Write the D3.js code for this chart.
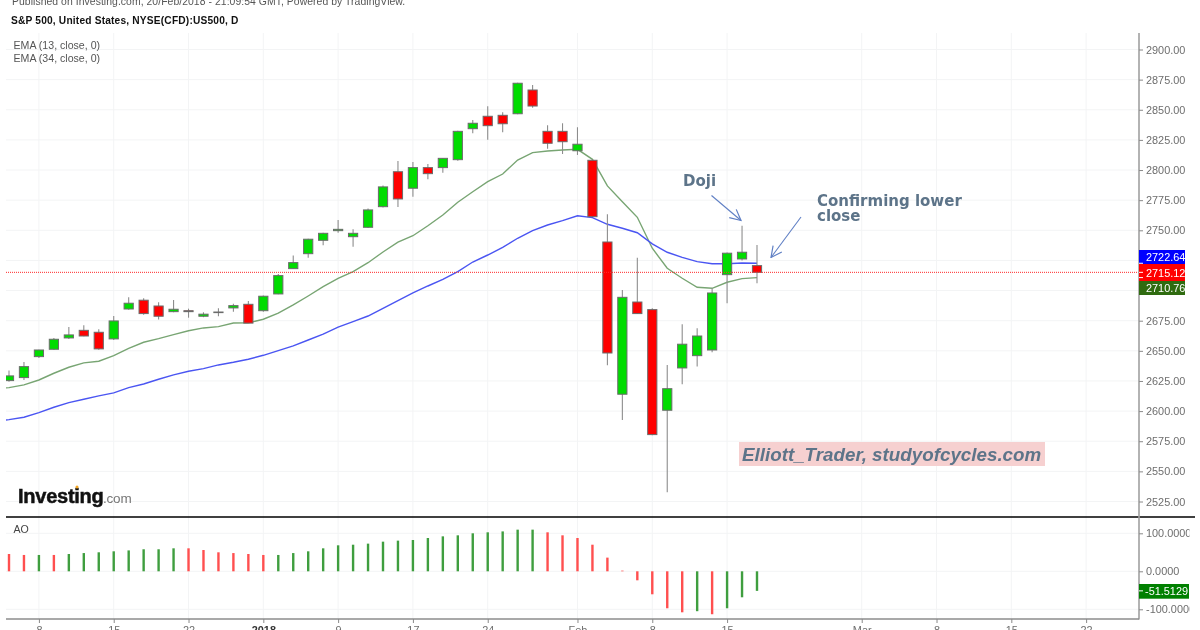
<!DOCTYPE html>
<html><head><meta charset="utf-8">
<script src="https://cdn.jsdelivr.net/npm/d3@7/dist/d3.min.js"></script>
<style>
html,body{margin:0;padding:0;background:#fff;overflow:hidden}
svg{display:block;filter:blur(0.35px)}
text{font-family:"Liberation Sans",Arial,sans-serif}
</style></head><body>
<svg id="c" width="1200" height="630"></svg>
<script>
// open, high, low, close per session
const opens=[2625.3,2627.8,2645.2,2651.3,2660.7,2667,2665.4,2659.9,2684.7,2692,2687.2,2682.5,2683.3,2678.7,2681.7,2685.6,2688.6,2683.3,2697.2,2718.2,2730.6,2741.7,2749.7,2744.7,2752.5,2769.6,2798.6,2784.9,2802,2802,2808.6,2834.3,2844.6,2845.4,2846.7,2866.4,2832.1,2832.1,2816,2808.1,2740.3,2614,2690.5,2684.2,2600.7,2635.8,2646,2650.7,2713.2,2726.2,2720.7];
const closes=[2629.2,2636.9,2650.7,2659.6,2663.2,2662.3,2651.6,2674.8,2689.5,2680.9,2678.7,2684.5,2682.5,2680.4,2682.2,2687.5,2673,2695.3,2712.4,2723.2,2742.6,2747.5,2750.8,2747.5,2766.9,2786,2776,2802,2797,2809.7,2832.1,2838.8,2836.8,2838.4,2872,2853.1,2822.2,2823.5,2821.4,2761.3,2648.2,2694.4,2680.9,2580.5,2618.6,2655.5,2662.3,2698,2731,2731.8,2715.12];
const highs=[2633.6,2640.8,2651,2660.7,2669.8,2671.2,2668,2679,2694.4,2693.6,2690.3,2692.2,2685,2682,2685.3,2689,2691.4,2696,2713.8,2729,2743,2748,2758.6,2750.8,2768,2787.2,2807.5,2806.7,2805,2810,2832.5,2841.5,2852.9,2847.9,2872.5,2870.6,2837.1,2838.8,2835.5,2808.5,2763.3,2700.5,2727.3,2685.3,2638.3,2672,2668.7,2701.9,2731.5,2753.8,2737.8];
const lows=[2624.4,2625.9,2644,2651,2659.9,2662,2651,2659,2684,2680,2675.9,2682,2677.5,2677.9,2678.7,2682.5,2673,2682.5,2697,2718,2727.3,2737.6,2748,2736.4,2752,2769,2769.4,2777.9,2792.3,2797.8,2807.8,2830.5,2825.2,2831.3,2846.2,2851.7,2817.7,2813.3,2812.5,2761,2638,2592.7,2680.5,2580,2532.7,2622.3,2636.9,2648.8,2689.5,2725,2706];
// the two EMA lists start one session before the first visible candle
const ema13=[2618.4,2619.5,2621.7,2625.8,2631.4,2636.4,2640,2641.4,2646,2652.1,2657.1,2660.1,2663.4,2666.7,2669,2670.1,2673.1,2673.2,2676.2,2681.2,2688.1,2695.5,2703.2,2710.2,2715.7,2723.1,2732,2740.1,2745.5,2753.8,2762.7,2773.3,2782,2790.3,2796.7,2808.3,2814.4,2815.8,2816.6,2817.2,2808.9,2786.8,2773.7,2760.8,2735.1,2718.5,2710.2,2702.7,2701.9,2706.9,2709.9,2710.76];
const ema34=[2591.6,2592.9,2594.9,2598.7,2603.2,2607,2609.8,2612.6,2615.1,2619.5,2622.5,2626.4,2630,2633.1,2635.2,2638.3,2640.5,2643,2646.3,2650.2,2654.1,2659,2663.8,2669.6,2674.2,2678.9,2685.3,2691.6,2698,2703.8,2709.2,2715.8,2723.7,2729.5,2735.8,2743.4,2749.7,2754.4,2758,2762.1,2760.5,2755,2751.7,2748,2738.7,2731.8,2727.6,2724,2722.3,2722.3,2722.9,2722.64];
const ao=[45.6,43,43,43,45.6,48,50,52.6,55,58,58,60.5,60.5,56,50,48,45.6,43,43,48,52.6,60.5,68.4,70,72.8,78,80.7,82.4,87.7,92,94.7,100,102.6,105,109.6,109.6,102.6,94.7,87.7,70,36,1.8,-23.7,-60.5,-97.3,-107.9,-105,-113,-97.3,-68.4,-51.5129];
const aoUp=[0,0,1,0,1,1,1,1,1,1,1,1,0,0,0,0,0,0,1,1,1,1,1,1,1,1,1,1,1,1,1,1,1,1,1,1,0,0,0,0,0,0,0,0,0,0,1,0,1,1,1];
const priceTicks=[2525,2550,2575,2600,2625,2650,2675,2700,2725,2750,2775,2800,2825,2850,2875,2900];
const hiddenPriceLabels=[2700,2725]; // covered by the price tags in the reference
const aoTicks=[-100,0,100];
const dateIdx=[2,7,12,17,22,27,32,38,43,48,57,62,67,72];
const dateLabels=["8","15","22","2018","9","17","24","Feb","8","15","Mar","8","15","22"];
const priceTags=[["2722.64",2722.64,"#0000ff"],["2715.12",2715.12,"#ff0000"],["2710.76",2710.76,"#2f6b10"]];

const svg=d3.select("#c");
const L=6,R=1139,TOP=33,SPLIT=517,BOT=619;
const x=d3.scaleLinear().domain([0,50]).range([9,757]);
const y=d3.scaleLinear().domain([2525,2900]).range([501.5,49.5]);
const ya=d3.scaleLinear().domain([-100,100]).range([609.3,533.3]);
const idx=d3.range(opens.length);

const defs=svg.append("defs");
defs.append("clipPath").attr("id","plot").append("rect").attr("x",L).attr("y",TOP).attr("width",R-L).attr("height",SPLIT-TOP);
defs.append("clipPath").attr("id","labels").append("rect").attr("x",R).attr("y",TOP).attr("width",50.5).attr("height",BOT-TOP);
const mk=defs.append("marker").attr("id","head").attr("viewBox","0 0 12 12").attr("refX",11).attr("refY",6)
  .attr("markerWidth",13).attr("markerHeight",13).attr("markerUnits","userSpaceOnUse").attr("orient","auto");
mk.append("path").attr("d","M1,1 L11,6 L1,11").attr("fill","none").attr("stroke","#5f7fc4").attr("stroke-width",1.1);

// grid
const grid=svg.append("g").attr("stroke","#f3f4f5").attr("stroke-width",1);
grid.selectAll(".h").data(priceTicks).join("line").attr("x1",L).attr("x2",R).attr("y1",d=>y(d)).attr("y2",d=>y(d));
grid.selectAll(".a").data(aoTicks).join("line").attr("x1",L).attr("x2",R).attr("y1",d=>ya(d)).attr("y2",d=>ya(d));
grid.selectAll(".v").data(dateIdx).join("line").attr("x1",d=>x(d)).attr("x2",d=>x(d)).attr("y1",TOP).attr("y2",BOT);

// EMA lines
const plot=svg.append("g").attr("clip-path","url(#plot)");
const ln=d3.line().x((d,i)=>x(i-1)).y(d=>y(d));
plot.append("path").datum(ema13).attr("d",ln).attr("fill","none").attr("stroke","#78a573").attr("stroke-width",1.4);
plot.append("path").datum(ema34).attr("d",ln).attr("fill","none").attr("stroke","#4a55f2").attr("stroke-width",1.4);

// candles
const up=i=>closes[i]>=opens[i];
plot.selectAll(".w").data(idx).join("line").attr("x1",x).attr("x2",x)
  .attr("y1",i=>y(highs[i])).attr("y2",i=>y(lows[i])).attr("stroke","#8d8d8d").attr("stroke-width",1.1);
plot.selectAll(".b").data(idx).join("rect")
  .attr("x",i=>x(i)-4.6).attr("width",9.2)
  .attr("y",i=>y(Math.max(opens[i],closes[i])))
  .attr("height",i=>Math.max(0.6,Math.abs(y(opens[i])-y(closes[i]))))
  .attr("fill",i=>up(i)?"#00dc00":"#ff0000")
  .attr("stroke","#6b6b6b").attr("stroke-width",1);

// last price line
svg.append("line").attr("x1",L).attr("x2",R).attr("y1",y(2715.12)).attr("y2",y(2715.12))
  .attr("stroke","#ff2a2a").attr("stroke-width",1).attr("stroke-dasharray","1 1");

// AO histogram
svg.append("g").selectAll("line").data(idx).join("line")
  .attr("x1",x).attr("x2",x).attr("y1",ya(0)).attr("y2",i=>ya(ao[i]))
  .attr("stroke",i=>aoUp[i]?"#3f9e3f":"#ff4f4f").attr("stroke-width",2.4);

// panel frame
svg.append("line").attr("x1",L).attr("x2",1195).attr("y1",SPLIT).attr("y2",SPLIT).attr("stroke","#000").attr("stroke-width",1.3);
svg.append("line").attr("x1",R).attr("x2",R).attr("y1",TOP).attr("y2",BOT+.5).attr("stroke","#a0a0a0").attr("stroke-width",1.6);
svg.append("line").attr("x1",L).attr("x2",R).attr("y1",BOT).attr("y2",BOT).attr("stroke","#8c8c8c").attr("stroke-width",1.4);

// axes
function styleAxis(g){
  g.select(".domain").remove();
  g.selectAll("line").attr("stroke","#8a8a8a");
  g.selectAll("text").attr("fill","#6e6e6e").style("font-family",'"Liberation Sans",Arial,sans-serif').style("font-size","10.9px");
}
const axLabels=svg.append("g").attr("clip-path","url(#labels)");
axLabels.append("g").attr("transform",`translate(${R},0)`)
  .call(d3.axisRight(y).tickValues(priceTicks.filter(t=>!hiddenPriceLabels.includes(t))).tickSize(4).tickPadding(3).tickFormat(d3.format(".2f"))).call(styleAxis);
axLabels.append("g").attr("transform",`translate(${R},0)`)
  .call(d3.axisRight(ya).tickValues(aoTicks).tickSize(4).tickPadding(3).tickFormat(d=>d.toFixed(4))).call(styleAxis);
const xAxis=svg.append("g").attr("transform",`translate(0,${BOT})`)
  .call(d3.axisBottom(x).tickValues(dateIdx).tickSize(4).tickPadding(3).tickFormat((d,i)=>dateLabels[i])).call(styleAxis);
xAxis.selectAll("text").filter((d,i)=>dateLabels[i]==="2018").style("font-weight","bold").style("fill","#333");

// price tags
const tagY=[257,272.5,288];
const tagH=[14,17,14];
priceTags.forEach((t,i)=>{
  svg.append("rect").attr("x",R).attr("y",tagY[i]-tagH[i]/2).attr("width",46).attr("height",tagH[i]).attr("fill",t[2]);
  svg.append("line").attr("x1",R).attr("x2",R+4).attr("y1",y(t[1])).attr("y2",y(t[1])).attr("stroke","#fff");
  svg.append("text").attr("x",1146).attr("y",tagY[i]+4).attr("fill","#fff").style("font-size","10.9px").text(t[0]);
});
svg.append("rect").attr("x",R).attr("y",584).attr("width",50).attr("height",14.7).attr("fill","#008000");
svg.append("line").attr("x1",R).attr("x2",R+4).attr("y1",ya(-51.5129)).attr("y2",ya(-51.5129)).attr("stroke","#fff");
svg.append("text").attr("x",1145).attr("y",595).attr("fill","#fff").style("font-size","10.9px").text("-51.5129");

// header + legends
svg.append("text").attr("x",12).attr("y",5).attr("fill","#555").style("font-size","10.4px").style("letter-spacing","0.06px")
  .text("Published on Investing.com, 20/Feb/2018 - 21:09:54 GMT, Powered by TradingView.");
svg.append("text").attr("x",11).attr("y",24).attr("fill","#111").style("font-size","10.2px").style("font-weight","bold").style("letter-spacing","0.18px")
  .text("S&P 500, United States, NYSE(CFD):US500, D");
svg.append("text").attr("x",13.5).attr("y",48.5).attr("fill","#555").style("font-size","10.6px").text("EMA (13, close, 0)");
svg.append("text").attr("x",13.5).attr("y",61.5).attr("fill","#555").style("font-size","10.6px").text("EMA (34, close, 0)");
svg.append("text").attr("x",13.5).attr("y",533).attr("fill","#444").style("font-size","10.6px").text("AO");

// logo
svg.append("text").attr("x",18).attr("y",503).attr("fill","#111").attr("stroke","#111").attr("stroke-width",0.5)
  .style("font-size","20px").style("font-weight","bold").style("letter-spacing","-0.25px").text("Investing");
svg.append("text").attr("x",103).attr("y",503).attr("fill","#777").style("font-size","13.5px").style("letter-spacing","-0.2px").text(".com");
svg.append("circle").attr("cx",77).attr("cy",487).attr("r",1.5).attr("fill","#f5a623");

// annotations
const noteFont='"DejaVu Sans",Verdana,sans-serif', noteCol="#5d7489";
[["Doji",683,186],["Confirming lower",817,205.5],["close",817,220.5]].forEach(a=>{
  svg.append("text").attr("x",a[1]).attr("y",a[2]).attr("fill",noteCol)
    .style("font-family",noteFont).style("font-size","15px").style("font-weight","bold").text(a[0]);
});
[[711.5,195.5,741,220.5],[801,217,771,257.5]].forEach(a=>{
  svg.append("line").attr("x1",a[0]).attr("y1",a[1]).attr("x2",a[2]).attr("y2",a[3])
    .attr("stroke","#5f7fc4").attr("stroke-width",1.1).attr("marker-end","url(#head)");
});
svg.append("rect").attr("x",739).attr("y",442).attr("width",306).attr("height",24).attr("fill","#f6d0d0");
svg.append("text").attr("x",742).attr("y",460.5).attr("fill",noteCol)
  .style("font-size","18.8px").style("font-weight","bold").style("font-style","italic").text("Elliott_Trader, studyofcycles.com");
</script>
</body></html>
